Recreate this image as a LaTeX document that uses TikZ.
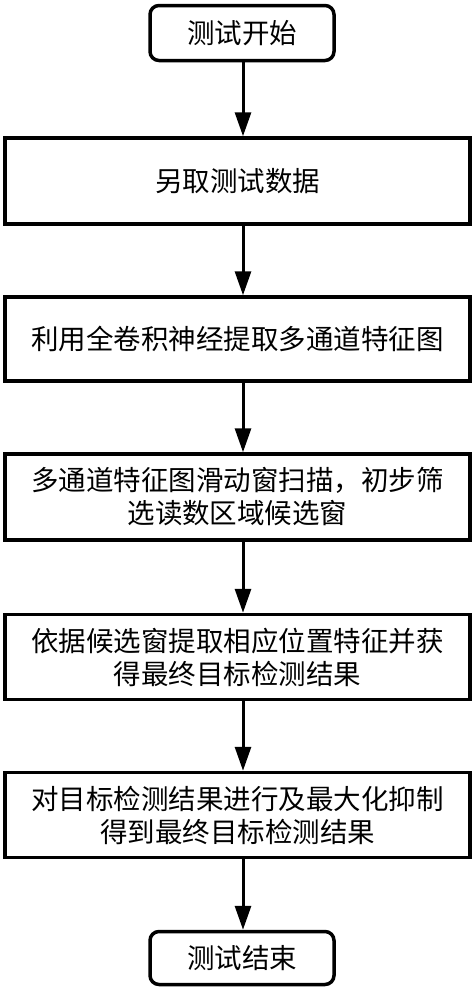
\documentclass[tikz,border=0pt]{standalone}
\usepackage{fontspec}
\setmainfont{Noto Sans CJK SC}
\usetikzlibrary{arrows.meta}
\begin{document}
\begin{tikzpicture}[x=1pt,y=-1pt,
  stepbox/.style={draw=black,line width=3.5pt,minimum width=465pt,inner sep=0pt,align=center,font=\fontsize{27.5}{33}\selectfont},
  termbox/.style={draw=black,line width=3.5pt,rounded corners=9pt,minimum width=184pt,inner sep=0pt,align=center,font=\fontsize{27.5}{33}\selectfont},
  flow/.style={line width=3pt,-{Triangle[length=24pt,width=16pt]}}]
\useasboundingbox (0,0) rectangle (474,991);
\node[termbox,minimum height=55pt] (s) at (242,33) {测试开始};
\node[stepbox,minimum height=86pt] (b1) at (237.5,181) {另取测试数据};
\node[stepbox,minimum height=84pt] (b2) at (237.5,339) {利用全卷积神经提取多通道特征图};
\node[stepbox,minimum height=86pt] (b3) at (237.5,497) {多通道特征图滑动窗扫描，初步筛\\选读数区域候选窗};
\node[stepbox,minimum height=85pt] (b4) at (237.5,657) {依据候选窗提取相应位置特征并获\\得最终目标检测结果};
\node[stepbox,minimum height=85pt] (b5) at (237.5,815) {对目标检测结果进行及最大化抑制\\得到最终目标检测结果};
\node[termbox,minimum height=53pt] (e) at (242,958) {测试结束};
\draw[flow] (s.south -| 243,0) -- (b1.north -| 243,0);
\draw[flow] (b1.south -| 243,0) -- (b2.north -| 243,0);
\draw[flow] (b2.south -| 243,0) -- (b3.north -| 243,0);
\draw[flow] (b3.south -| 243,0) -- (b4.north -| 243,0);
\draw[flow] (b4.south -| 243,0) -- (b5.north -| 243,0);
\draw[flow] (b5.south -| 243,0) -- (e.north -| 243,0);
\end{tikzpicture}
\end{document}
